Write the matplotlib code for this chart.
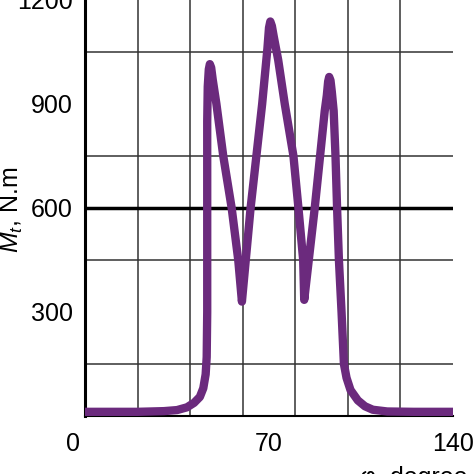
import matplotlib
matplotlib.use('Agg')
import matplotlib.pyplot as plt
import matplotlib.transforms as mtransforms

plt.rcParams['font.family'] = ['Liberation Sans', 'DejaVu Sans']
plt.rcParams['mathtext.fontset'] = 'custom'
plt.rcParams['mathtext.rm'] = 'Liberation Sans'
plt.rcParams['mathtext.it'] = 'Liberation Sans:italic'

# torque curve: angle (degree) and torque (N.m)
phi = [0, 20, 30, 35, 38.8, 41.5, 43.7, 45, 45.9, 46.3, 46.5, 46.5, 46.5,
       46.7, 47.1, 47.5, 48, 48.6, 50, 52.6, 55.8, 58.3, 59.7,
       63, 67.4, 69.4, 70, 70.5, 71.1, 71.8, 73.5, 76, 79.3,
       81.2, 83, 83.4,
       87.4, 91.2, 92, 92.5, 92.9, 93.4, 93.9, 94.6, 95.3, 95.9, 96.6,
       97.6, 98.5, 99.5, 101, 103.8, 106.5, 109.5, 115, 125, 140]
torque = [12, 12, 14, 17, 25, 38, 55, 80, 120, 170, 300, 600, 850,
          950, 1000, 1015, 1005, 970, 900, 750, 600, 450, 330,
          600, 900, 1060, 1120, 1138, 1125, 1095, 1027, 900, 750,
          600, 450, 335,
          600, 880, 925, 965, 978, 968, 935, 880, 750, 600, 450,
          300, 150, 110, 75, 45, 28, 18, 13, 12, 12]
mean_torque = 600

x_ticks = [0, 70, 140]
y_ticks = [300, 600, 900, 1200]

fig = plt.figure(figsize=(4.74, 4.74), dpi=100)
ax = fig.add_axes([0.1793, 0.1224, 0.7764, 0.8776])

ax.set_xlim(0, 140)
ax.set_ylim(0, 1200)
ax.set_xticks(x_ticks)
ax.set_yticks(y_ticks)
ax.set_xticks(range(0, 141, 20), minor=True)
ax.set_yticks(range(0, 1201, 150), minor=True)
ax.grid(which='minor', color='#333333', linewidth=1.1)
ax.grid(which='major', visible=False)
ax.tick_params(which='both', length=0)
ax.tick_params(axis='x', labelsize=18, pad=11.5)
ax.tick_params(axis='y', labelsize=18, pad=8.6)

# the "0" sits a little left of the axis in the original
shift = mtransforms.ScaledTranslation(-12 / 100, 0, fig.dpi_scale_trans)
first = ax.get_xticklabels()[0]
first.set_transform(first.get_transform() + shift)

for side in ['top', 'right']:
    ax.spines[side].set_visible(False)
ax.spines['left'].set_linewidth(2.2)
ax.spines['bottom'].set_linewidth(1.5)

ax.axhline(mean_torque, color='black', linewidth=2.5, zorder=2)
ax.plot(phi, torque, color='#6B2A7D', linewidth=6.0, solid_capstyle='butt',
        clip_on=False, zorder=3)

fig.text(12 / 474, 1 - 210 / 474, '$M_t$, N.m', rotation=90, fontsize=18,
         ha='center', va='center')
fig.text(414 / 474, 1 - 485 / 474, 'φ, degree', fontsize=18, ha='center',
         va='baseline')

fig.savefig('out.png', dpi=100)
